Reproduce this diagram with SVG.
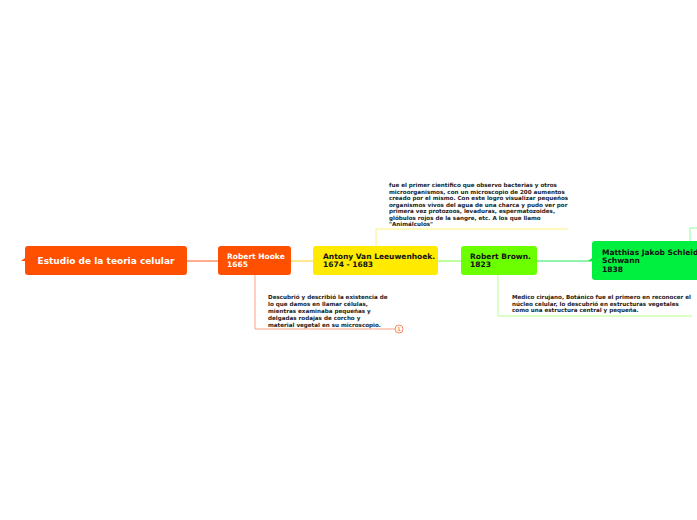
<svg xmlns="http://www.w3.org/2000/svg" width="697" height="520" viewBox="0 0 697 520">
<style>
.t{font-family:"DejaVu Sans",Verdana,sans-serif;font-weight:bold}
.n{font-size:7.5px}
.s{font-size:5.6px;fill:#222}
.c{fill:none;stroke-width:1}
</style>
<rect width="697" height="520" fill="#fff"/>
<g id="connectors">
<path class="c" stroke="#ff5a1f" d="M187 261H218"/>
<path class="c" stroke="#ffd21f" d="M291 261H313"/>
<path class="c" stroke="#7cff3a" d="M438 261H461"/>
<path class="c" stroke="#1fe860" stroke-width="1.5" d="M537 261H592"/>
<path class="c" stroke="#ffa080" d="M255 275V329H395"/>
<circle cx="399" cy="329" r="4" fill="#fff" stroke="#ff8a60"/>
<text x="399" y="331" class="t" font-size="5" fill="#ff8a60" text-anchor="middle">1</text>
<path class="c" stroke="#fff27a" d="M376 246V229H568"/>
<path class="c" stroke="#b8ff8a" d="M498 275V316H692"/>
<path class="c" stroke="#8aff9f" d="M690 241V228H697"/>
</g>
<g id="main"><path d="M25 261l-4 0 4-3z" fill="#ff5000"/><rect x="25" y="246" width="162" height="29" rx="3" fill="#ff5000"/><text x="106" y="264" class="t" font-size="9" fill="#fff" text-anchor="middle">Estudio de la teoria celular</text></g>
<g id="hooke"><rect x="218" y="246" width="73" height="29" rx="3" fill="#ff5000"/><text x="227" y="259" class="t n" fill="#fff">Robert Hooke</text><text x="227" y="267" class="t n" fill="#fff">1665</text></g>
<g id="hooke-note"><text class="t s"><tspan x="268" y="299">Descubrió y describió la existencia de</tspan><tspan x="268" y="306">lo que damos en llamar células,</tspan><tspan x="268" y="313">mientras examinaba pequeñas y</tspan><tspan x="268" y="320">delgadas rodajas de corcho y</tspan><tspan x="268" y="327">material vegetal en su microscopio.</tspan></text></g>
<g id="antony"><rect x="313" y="246" width="125" height="29" rx="3" fill="#ffea00"/><text x="323" y="259" class="t n" fill="#111">Antony Van Leeuwenhoek.</text><text x="323" y="267" class="t n" fill="#111">1674 - 1683</text></g>
<g id="antony-note"><text class="t s"><tspan x="389" y="187">fue el primer cientifico que observo bacterias y otros</tspan><tspan x="389" y="193.5">microorganismos, con un microscopio de 200 aumentos</tspan><tspan x="389" y="200">creado por el mismo. Con este logro visualizar pequeños</tspan><tspan x="389" y="206.5">organismos vivos del agua de una charca y pudo ver por</tspan><tspan x="389" y="213">primera vez protozoos, levaduras, espermatozoides,</tspan><tspan x="389" y="219.5">glóbulos rojos de la sangre, etc. A los que llamo</tspan><tspan x="389" y="226">"Animálculos"</tspan></text></g>
<g id="brown"><rect x="461" y="246" width="76" height="29" rx="3" fill="#6cff00"/><text x="470" y="259" class="t n" fill="#111">Robert Brown.</text><text x="470" y="267" class="t n" fill="#111">1823</text></g>
<g id="brown-note"><text class="t s"><tspan x="512" y="299">Medico cirujano, Botánico fue el primero en reconocer el</tspan><tspan x="512" y="305.5">núcleo celular, lo descubrió en estructuras vegetales</tspan><tspan x="512" y="312">como una estructura central y pequeña.</tspan></text></g>
<g id="matthias"><path d="M592 261l-4 0 4-3z" fill="#00f040"/><rect x="592" y="241" width="115" height="39" rx="3" fill="#00f040"/><text x="602" y="255" class="t n" fill="#111">Matthias Jakob Schleiden</text><text x="602" y="263" class="t n" fill="#111">Schwann</text><text x="602" y="272" class="t n" fill="#111">1838</text></g>
</svg>
